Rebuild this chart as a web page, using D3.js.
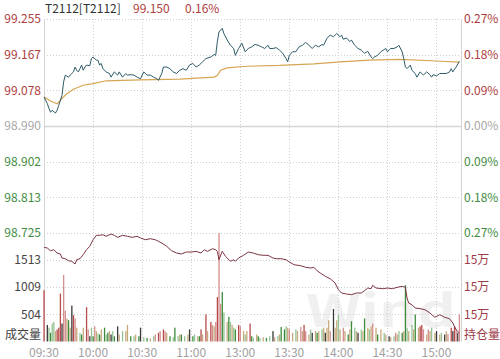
<!DOCTYPE html>
<html><head><meta charset="utf-8">
<script src="https://cdn.jsdelivr.net/npm/d3@7/dist/d3.min.js"></script>
<style>body{margin:0;background:#fff}svg{display:block}text{font-family:"Noto Sans CJK SC","Noto Sans",sans-serif}</style>
</head><body>
<svg id="c" width="500" height="359"></svg>
<script>
// ---- data ----
const title = "T2112[T2112]";
const lastPrice = "99.150";
const lastPct = "0.16%";
const prevClose = 98.990;
const priceTicks = [99.255, 99.167, 99.078, 98.990, 98.902, 98.813, 98.725];
const volTicks = [504, 1009, 1513];
const oiTickLabel = "15万";
const timeTicks = [0, 30, 60, 90, 120, 150, 180, 210, 240];
const timeLabels = ["09:30", "10:00", "10:30", "11:00", "13:00", "13:30", "14:00", "14:30", "15:00"];
// [minute since open, price]
const pricePoints = [[0,99.062],[2,99.046],[3,99.034],[4,99.024],[5,99.029],[7,99.022],[8,99.029],[9,99.041],[11,99.066],[12,99.099],[13,99.116],[15,99.111],[16,99.116],[18,99.124],[19,99.136],[20,99.128],[21,99.124],[22,99.132],[23,99.141],[24,99.128],[25,99.136],[26,99.141],[28,99.139],[29,99.157],[30,99.161],[32,99.153],[33,99.153],[34,99.141],[35,99.145],[36,99.132],[38,99.124],[40,99.120],[41,99.111],[43,99.124],[45,99.116],[46,99.124],[48,99.111],[50,99.120],[51,99.116],[53,99.117],[55,99.116],[57,99.111],[59,99.107],[61,99.124],[63,99.116],[65,99.116],[67,99.111],[69,99.107],[70,99.103],[72,99.120],[73,99.136],[75,99.136],[77,99.132],[79,99.124],[81,99.120],[83,99.128],[85,99.132],[87,99.128],[89,99.141],[91,99.145],[93,99.136],[95,99.141],[97,99.149],[99,99.157],[102,99.161],[104,99.167],[105,99.165],[106,99.199],[107,99.223],[109,99.232],[110,99.219],[112,99.203],[114,99.190],[116,99.182],[117,99.165],[119,99.182],[121,99.195],[123,99.174],[125,99.182],[127,99.186],[129,99.192],[131,99.190],[133,99.186],[135,99.182],[137,99.190],[138,99.182],[140,99.182],[142,99.184],[144,99.178],[146,99.170],[148,99.157],[149,99.149],[150,99.165],[152,99.174],[154,99.174],[156,99.186],[158,99.190],[160,99.197],[162,99.190],[164,99.182],[166,99.190],[168,99.186],[170,99.192],[171,99.190],[173,99.207],[175,99.215],[177,99.211],[179,99.219],[181,99.211],[182,99.215],[183,99.205],[185,99.208],[187,99.199],[188,99.203],[190,99.190],[192,99.182],[194,99.178],[196,99.170],[198,99.175],[200,99.161],[201,99.157],[202,99.161],[204,99.165],[206,99.174],[209,99.182],[210,99.174],[212,99.182],[214,99.182],[216,99.186],[217,99.190],[219,99.174],[220,99.157],[221,99.136],[222,99.132],[224,99.141],[225,99.128],[227,99.120],[228,99.111],[230,99.124],[231,99.120],[232,99.116],[234,99.124],[236,99.117],[237,99.111],[238,99.117],[240,99.114],[242,99.120],[246,99.120],[248,99.124],[249,99.132],[250,99.124],[252,99.136],[254,99.150]];
const avgPoints = [[0,99.062],[4,99.052],[8,99.045],[11,99.058],[14,99.070],[18,99.081],[24,99.091],[30,99.095],[38,99.102],[48,99.103],[59,99.104],[83,99.106],[104,99.111],[106,99.115],[108,99.128],[112,99.134],[124,99.138],[144,99.140],[165,99.144],[181,99.149],[199,99.153],[218,99.155],[240,99.151],[254,99.148]];
const oiPoints = [[0,150736],[2,150723],[4,150673],[6,150692],[8,150631],[10,150613],[11,150539],[13,150526],[15,150489],[17,150478],[19,150428],[20,150508],[22,150526],[24,150600],[26,150692],[28,150755],[30,150876],[32,150957],[34,150957],[36,150968],[38,150939],[41,150981],[43,150957],[45,150920],[48,150957],[51,150939],[54,150920],[57,150939],[59,150908],[62,150876],[65,150895],[68,150876],[70,150847],[72,150815],[75,150755],[78,150673],[81,150631],[84,150613],[87,150649],[90,150649],[93,150662],[96,150631],[98,150692],[100,150662],[103,150710],[105,150692],[106,150662],[107,150508],[109,150662],[111,150570],[114,150478],[116,150508],[117,150478],[119,150539],[122,150589],[125,150649],[128,150631],[131,150600],[134,150589],[137,150589],[140,150539],[142,150526],[145,150526],[148,150508],[150,150465],[153,150415],[157,150397],[160,150368],[163,150355],[165,150368],[167,150305],[169,150262],[172,150202],[175,150157],[178,150078],[180,149955],[182,149894],[185,149875],[188,149863],[191,149894],[194,149894],[196,149936],[198,149986],[200,149973],[201,150036],[203,149986],[207,149973],[210,149986],[213,149973],[216,149999],[219,150017],[221,149999],[222,149802],[223,149710],[225,149678],[227,149617],[230,149605],[233,149586],[236,149525],[239,149446],[242,149494],[245,149446],[248,149420],[250,149341],[252,149217],[254,149157]];
// [minute, volume, colour code]
const volBars = [[0,953,"r"],[2,308,"k"],[3,257,"l"],[4,162,"g"],[5,333,"l"],[6,364,"l"],[7,193,"t"],[8,225,"r"],[9,257,"r"],[10,890,"r"],[11,333,"k"],[12,1238,"p"],[13,573,"p"],[14,428,"t"],[15,396,"g"],[16,257,"t"],[17,668,"k"],[18,491,"r"],[19,428,"p"],[20,257,"t"],[22,162,"l"],[23,130,"g"],[24,257,"t"],[26,637,"r"],[27,225,"p"],[28,98,"k"],[29,257,"l"],[30,98,"g"],[31,282,"p"],[32,193,"t"],[33,149,"l"],[34,130,"g"],[35,225,"t"],[37,257,"g"],[38,130,"l"],[39,162,"g"],[40,193,"t"],[41,130,"k"],[42,193,"l"],[43,98,"g"],[45,282,"k"],[46,130,"t"],[48,193,"l"],[50,193,"t"],[51,308,"t"],[53,98,"g"],[55,98,"l"],[56,130,"t"],[58,98,"g"],[59,257,"k"],[61,80,"l"],[63,66,"g"],[65,60,"t"],[67,98,"l"],[68,130,"p"],[70,162,"r"],[71,193,"p"],[73,225,"r"],[74,193,"p"],[75,162,"t"],[77,98,"g"],[79,80,"l"],[80,257,"g"],[82,98,"l"],[83,130,"t"],[84,130,"g"],[86,98,"l"],[88,130,"t"],[89,225,"k"],[91,98,"g"],[92,130,"l"],[94,98,"t"],[95,98,"g"],[96,225,"r"],[97,130,"t"],[99,503,"r"],[100,193,"t"],[102,364,"r"],[103,308,"p"],[104,282,"t"],[105,364,"p"],[106,827,"r"],[107,2017,"p"],[108,700,"p"],[109,921,"g"],[110,541,"l"],[112,364,"t"],[113,459,"g"],[114,364,"l"],[115,308,"t"],[116,257,"l"],[117,225,"g"],[119,308,"r"],[120,282,"p"],[122,193,"t"],[123,130,"l"],[124,193,"t"],[126,333,"r"],[127,98,"g"],[128,66,"l"],[130,130,"t"],[131,98,"g"],[132,66,"l"],[134,80,"t"],[136,66,"g"],[138,98,"l"],[140,193,"k"],[141,80,"t"],[143,98,"l"],[144,130,"t"],[145,270,"g"],[147,225,"g"],[148,282,"l"],[149,257,"t"],[150,225,"p"],[152,162,"t"],[154,225,"l"],[155,193,"t"],[157,270,"p"],[158,193,"t"],[159,308,"r"],[160,193,"p"],[162,130,"t"],[163,225,"l"],[164,162,"k"],[166,193,"t"],[167,162,"g"],[168,193,"t"],[170,225,"l"],[171,257,"t"],[172,162,"k"],[173,257,"t"],[174,396,"t"],[175,193,"p"],[177,605,"k"],[178,257,"t"],[179,396,"t"],[180,491,"l"],[181,225,"t"],[183,257,"p"],[184,193,"t"],[186,130,"g"],[187,225,"t"],[188,377,"g"],[190,257,"l"],[191,193,"t"],[192,162,"k"],[194,225,"l"],[195,193,"t"],[196,428,"g"],[198,257,"t"],[199,225,"l"],[200,282,"t"],[201,333,"p"],[203,257,"t"],[204,130,"g"],[206,225,"t"],[208,162,"l"],[209,130,"t"],[211,98,"k"],[212,80,"t"],[214,98,"l"],[215,162,"p"],[216,130,"t"],[217,193,"l"],[219,162,"g"],[220,193,"t"],[221,1048,"g"],[222,257,"l"],[223,193,"t"],[225,308,"l"],[226,225,"t"],[227,503,"g"],[229,257,"t"],[230,282,"r"],[231,308,"r"],[232,225,"p"],[234,130,"t"],[235,225,"p"],[236,193,"t"],[237,257,"l"],[239,162,"t"],[240,193,"k"],[242,130,"t"],[243,162,"l"],[245,130,"k"],[246,193,"t"],[247,140,"p"],[249,257,"r"],[250,193,"k"],[251,282,"r"],[252,225,"p"],[253,162,"k"],[254,503,"p"]];

// ---- drawing ----
const svg = d3.select("#c");
const L = 44, R = 461, T = 19, MID = 233, B = 341.5;
const x = d3.scaleLinear().domain([0, 255]).range([L, R]);
const y = d3.scaleLinear().domain([98.725, 99.255]).range([MID, T]);
const yv = d3.scaleLinear().domain([0, 2017]).range([B, MID]);
const yo = d3.scaleLinear().domain([149000, 151000]).range([B, MID]);
const RED = "#ad3d3d", GREEN = "#3f8c3f", GRAY = "#a8a8a8", MAROON = "#9c3b48";
const barCol = {r:"#b84c4c", p:"#d48e8e", g:"#3c8c3c", l:"#95c395", t:"#c6aa7c", k:"#3a3a3a"};

// watermark
svg.append("text").attr("x", 306).attr("y", 327).attr("font-size", 44).attr("font-weight", "bold")
  .attr("font-family", "DejaVu Sans").attr("fill", "#f0f0f0")
  .attr("textLength", 150).attr("lengthAdjust", "spacingAndGlyphs").text("Wind");

// grid
const g = svg.append("g");
priceTicks.forEach(v => {
  g.append("line").attr("x1", L).attr("x2", R).attr("y1", Math.round(y(v)) + 0.5).attr("y2", Math.round(y(v)) + 0.5)
    .attr("stroke", v === prevClose ? "#d6d6d6" : "#cfcfcf").attr("stroke-width", v === prevClose ? 1.5 : 1)
    .attr("stroke-dasharray", v === prevClose ? null : "1,2");
});
volTicks.forEach(v => {
  g.append("line").attr("x1", L).attr("x2", R).attr("y1", Math.round(yv(v)) + 0.5).attr("y2", Math.round(yv(v)) + 0.5)
    .attr("stroke", "#cfcfcf").attr("stroke-dasharray", "1,2");
});
timeTicks.slice(1).forEach(t => {
  g.append("line").attr("x1", Math.round(x(t)) + 0.5).attr("x2", Math.round(x(t)) + 0.5).attr("y1", T).attr("y2", B)
    .attr("stroke", "#cfcfcf").attr("stroke-dasharray", "1,2");
});
[L, R].forEach(xx => g.append("line").attr("x1", xx + 0.5).attr("x2", xx + 0.5).attr("y1", T).attr("y2", B)
  .attr("stroke", "#d4d4d4"));

// volume bars
svg.append("g").selectAll("rect").data(volBars).join("rect")
  .attr("x", d => x(d[0]) - 0.6).attr("width", 1.3)
  .attr("y", d => yv(d[1])).attr("height", d => B - yv(d[1]))
  .attr("fill", d => barCol[d[2]]);

// open interest line
svg.append("path").datum(oiPoints).attr("fill", "none").attr("stroke", "#7d3442").attr("stroke-width", 1)
  .attr("d", d3.line().x(d => x(d[0])).y(d => yo(d[1])));
// average line
svg.append("path").datum(avgPoints).attr("fill", "none").attr("stroke", "#d6a553").attr("stroke-width", 1.2)
  .attr("d", d3.line().x(d => x(d[0])).y(d => y(d[1])));
// price line
svg.append("path").datum(pricePoints).attr("fill", "none").attr("stroke", "#2e5b68").attr("stroke-width", 1)
  .attr("d", d3.line().x(d => x(d[0])).y(d => y(d[1])));

// left price labels
const fmt3 = d3.format(".3f"), fmtPct = d3.format(".2f");
const colFor = v => v > prevClose + 1e-9 ? RED : (v < prevClose - 1e-9 ? GREEN : GRAY);
priceTicks.forEach(v => {
  svg.append("text").attr("x", 41).attr("y", y(v) + 1).attr("text-anchor", "end").attr("dominant-baseline", "middle")
    .attr("font-size", 12).attr("fill", colFor(v)).text(fmt3(v));
  svg.append("text").attr("x", 464).attr("y", y(v) + 1).attr("dominant-baseline", "middle")
    .attr("font-size", 12).attr("fill", colFor(v)).text(fmtPct(Math.abs(v / prevClose - 1) * 100) + "%");
});
volTicks.forEach(v => {
  svg.append("text").attr("x", 41).attr("y", yv(v) + 1).attr("text-anchor", "end").attr("dominant-baseline", "middle")
    .attr("font-size", 12).attr("fill", "#444").text(v);
  svg.append("text").attr("x", 464).attr("y", yv(v) + 1).attr("dominant-baseline", "middle")
    .attr("font-size", 12).attr("fill", MAROON).text(oiTickLabel);
});
svg.append("text").attr("x", 41).attr("y", 336).attr("text-anchor", "end").attr("dominant-baseline", "middle")
  .attr("font-size", 12).attr("fill", "#444").text("成交量");
svg.append("text").attr("x", 464).attr("y", 336).attr("dominant-baseline", "middle")
  .attr("font-size", 12).attr("fill", MAROON).text("持仓量");

// time labels
timeTicks.forEach((t, i) => {
  svg.append("text").attr("x", x(t)).attr("y", 354).attr("text-anchor", "middle").attr("dominant-baseline", "middle")
    .attr("font-size", 12).attr("fill", "#a0a0a0").text(timeLabels[i]);
});

// title
svg.append("text").attr("x", 45).attr("y", 10).attr("dominant-baseline", "middle").attr("font-size", 12).attr("fill", "#333").text(title);
svg.append("text").attr("x", 133).attr("y", 10).attr("dominant-baseline", "middle").attr("font-size", 12).attr("fill", RED).text(lastPrice);
svg.append("text").attr("x", 185).attr("y", 10).attr("dominant-baseline", "middle").attr("font-size", 12).attr("fill", RED).text(lastPct);
</script>
</body></html>
